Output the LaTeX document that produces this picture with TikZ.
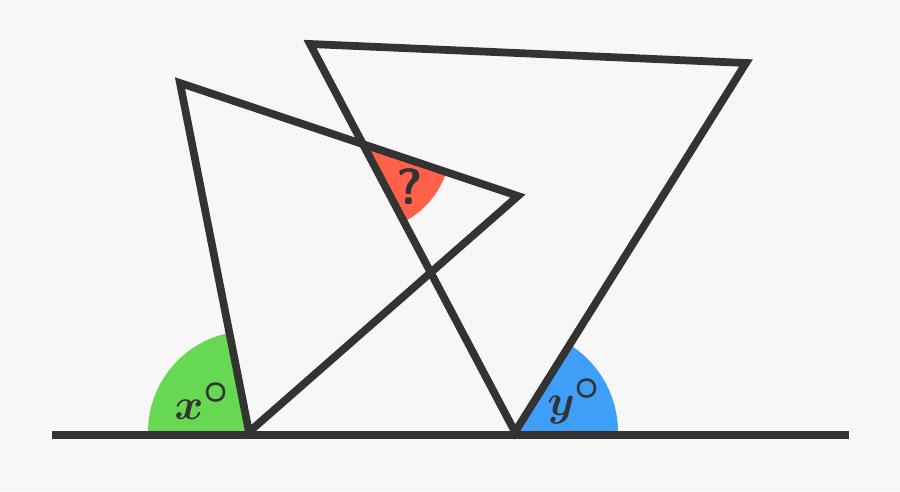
\documentclass[tikz,border=0pt]{standalone}
\usepackage{amsmath}
\definecolor{ink}{HTML}{333333}
\definecolor{paper}{HTML}{F7F7F7}
\definecolor{greenfill}{HTML}{66D852}
\definecolor{bluefill}{HTML}{3F9EF7}
\definecolor{redfill}{HTML}{FF614A}
\tikzset{
  edge/.style={draw=ink, line width=4.4pt},
  angletext/.style={text=ink, font=\fontsize{34}{40}\selectfont\boldmath}
}
\begin{document}
\begin{tikzpicture}[x=0.02cm, y=0.02cm]

    %background and size
    \fill[paper] (0,0) rectangle (900,491);
    \useasboundingbox (0,0) rectangle (900,491);

    %points of the two triangles
    \coordinate (topA) at (180,408);
    \coordinate (tipA) at (518,295);
    \coordinate (footA) at (249,59);
    \coordinate (topB) at (310,447);
    \coordinate (tipB) at (746,428);
    \coordinate (footB) at (515,59);
    \coordinate (cross) at (intersection of topA--tipA and topB--footB);

    %ground line
    \coordinate (groundL) at (52,56);
    \coordinate (groundR) at (849,56);

    %angle sectors
    \fill[greenfill] (footA) -- ++(101.2:2.02cm) arc[start angle=101.2, end angle=180, radius=2.02cm] -- cycle; %x
    \fill[bluefill] (footB) -- ++(0:2.06cm) arc[start angle=0, end angle=57.9, radius=2.06cm] -- cycle; %y
    \fill[redfill] (cross) -- ++(-62.1:1.76cm) arc[start angle=-62.1, end angle=-18.5, radius=1.76cm] -- cycle; %?

    %triangles and ground
    \draw[edge] (topA) -- (tipA) -- (footA) -- cycle;
    \draw[edge] (topB) -- (tipB) -- (footB) -- cycle;
    \draw[edge] (groundL) -- (groundR);

    %labels
    \node[angletext] (labelx) at (202,90) {$x^{\circ}$};
    \node[angletext] (labely) at (574,90) {$y^{\circ}$};
    \node[text=ink, font=\fontsize{29}{34}\selectfont\sffamily\bfseries] (labelq) at (410,304) {?};

\end{tikzpicture}
\end{document}
